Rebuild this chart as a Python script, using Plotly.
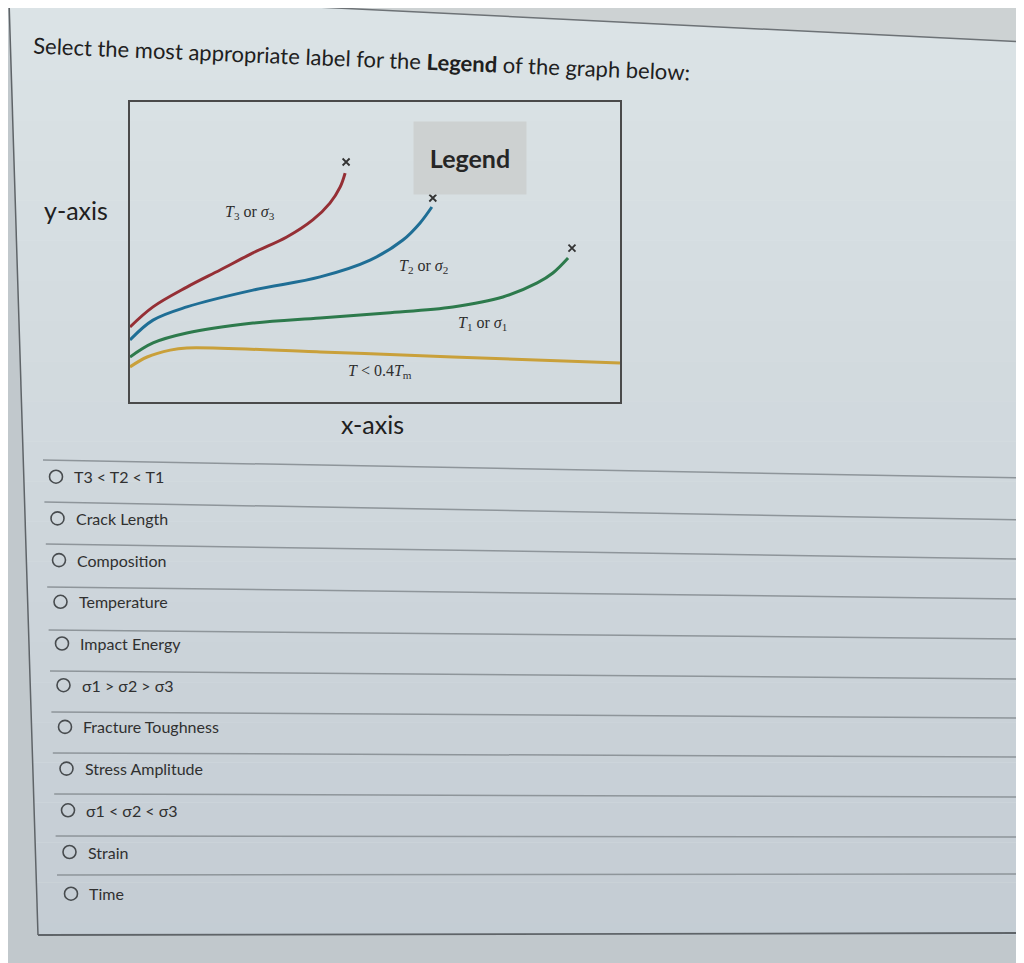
import plotly.graph_objects as go

W, H = 1024, 963
OFF = 8  # the page body margin shifts the figure by this many pixels
FW, FH = W - OFF, H - OFF  # figure size that fills the rest of the window

# creep curves (arbitrary units, 0-100 inside the frame)
t3_x = [0, 4.7, 11.6, 18.4, 25.1, 32.0, 37.3, 40.8, 42.9, 43.9]
t3_y = [25, 31.7, 38.3, 44, 49.7, 55, 60.7, 66.3, 71.7, 76.3]
t2_x = [0, 4.7, 11.6, 25.1, 38.8, 49, 55.7, 59.2, 61.6]
t2_y = [20.7, 27.3, 31.7, 37.3, 41.7, 47.3, 54, 59.7, 65]
t1_x = [0, 4.7, 11.6, 25.1, 38.8, 52.4, 65.9, 76.1, 83.1, 86.3, 89.4]
t1_y = [15, 19.7, 23, 26.3, 28, 29.7, 31.7, 35, 39.7, 43, 48]
low_x = [0, 3.5, 8.2, 11.6, 38.8, 65.9, 100]
low_y = [11.7, 15, 17.3, 18, 16.7, 15, 13]
rupture_x = [44.1, 61.8, 90.2]
rupture_y = [80, 68, 51.3]

curve_labels = ["<i>T</i><sub>3</sub> or <i>σ</i><sub>3</sub>",
                "<i>T</i><sub>2</sub> or <i>σ</i><sub>2</sub>",
                "<i>T</i><sub>1</sub> or <i>σ</i><sub>1</sub>",
                "<i>T</i> &lt; 0.4<i>T</i><sub>m</sub>"]
label_x = [24.5, 59.8, 72, 51]
label_y = [63, 45.3, 26.3, 10.3]

question = "Select the most appropriate label for the <b>Legend</b> of the graph below:"
options = ["T3 < T2 < T1", "Crack Length", "Composition", "Temperature",
           "Impact Energy", "σ1 > σ2 > σ3", "Fracture Toughness",
           "Stress Amplitude", "σ1 < σ2 < σ3", "Strain", "Time"]

# page geometry (screen pixels) for the quiz layout
opt_y = [476.7 + 41.7 * i for i in range(len(options))]
opt_cx = [56 + 1.5 * i for i in range(len(options))]
sep_left_y = [460, 502, 544, 587, 630, 671, 712, 753, 794, 836, 875]
sep_right_y = [478, 520, 559, 599, 639, 679, 718, 757, 797, 837, 874]

box_l, box_r, box_t, box_b = 130, 620, 102, 402

fig = go.Figure()

# --- page layer (x/y = screen pixels) ---
fig.add_trace(go.Scatter(
    x=opt_cx, y=opt_y, mode="markers", hoverinfo="skip", showlegend=False,
    marker=dict(symbol="circle-open", size=13, color="#474b4e", line=dict(width=1.6, color="#474b4e")),
    xaxis="x", yaxis="y"
))

# --- the creep chart ---
for xs, ys, col in [(low_x, low_y, "#c9a03a"), (t1_x, t1_y, "#2d7a4c"),
                    (t2_x, t2_y, "#1f6e95"), (t3_x, t3_y, "#952f35")]:
    fig.add_trace(go.Scatter(
        x=xs, y=ys, mode="lines", line=dict(color=col, width=3, shape="spline", smoothing=1.0),
        showlegend=False, hoverinfo="skip", xaxis="x2", yaxis="y2"
    ))

fig.add_trace(go.Scatter(
    x=rupture_x, y=rupture_y, mode="markers", showlegend=False, hoverinfo="skip",
    marker=dict(symbol="x-thin", size=7, line=dict(width=1.8, color="#333")),
    xaxis="x2", yaxis="y2"
))

shapes = []
# soft vertical shading of the photographed screen
n_bands = 24
for i in range(n_bands):
    f = i / (n_bands - 1)
    r = int(219 - 23 * f)
    g = int(227 - 22 * f)
    b = int(230 - 18 * f)
    shapes.append(dict(type="rect", xref="x", yref="y", layer="below",
                       x0=0, x1=W, y0=H * i / n_bands, y1=H * (i + 1) / n_bands,
                       line=dict(width=0), fillcolor=f"rgb({r},{g},{b})"))
# darker area outside the page
shapes.append(dict(type="path", xref="x", yref="y", layer="below",
                   path=f"M 0,0 L 9,0 L 38,935 L {W},935 L {W},{H} L 0,{H} Z",
                   fillcolor="#c1c8cc", line=dict(width=0)))
shapes.append(dict(type="path", xref="x", yref="y", layer="below",
                   path=f"M 175,0 L {W},0 L {W},42 Z",
                   fillcolor="#cdd2d3", line=dict(width=0)))
# page borders
shapes.append(dict(type="line", xref="x", yref="y", x0=175, y0=0, x1=W, y1=42,
                   line=dict(color="#6d7276", width=1.5)))
shapes.append(dict(type="line", xref="x", yref="y", x0=9, y0=0, x1=38, y1=935,
                   line=dict(color="#5f6468", width=1.5)))
shapes.append(dict(type="line", xref="x", yref="y", x0=38, y0=935, x1=W, y1=933,
                   line=dict(color="#5f6468", width=1.8)))
# option separators
for i, (yl, yr) in enumerate(zip(sep_left_y, sep_right_y)):
    shapes.append(dict(type="line", xref="x", yref="y", x0=43 + 1.4 * i, y0=yl, x1=W, y1=yr,
                       line=dict(color="#8e959a", width=1.5)))

annotations = []
annotations.append(dict(xref="x", yref="y", x=361, y=58.5, text=question, showarrow=False,
                        textangle=2.35, font=dict(family="Lato", size=22, color="#202020")))
annotations.append(dict(xref="x", yref="y", x=76, y=210, text="y-axis", showarrow=False,
                        font=dict(family="Lato", size=25, color="#202020")))
annotations.append(dict(xref="x", yref="y", x=372, y=424, text="x-axis", showarrow=False,
                        font=dict(family="Lato", size=25, color="#202020")))
for i, txt in enumerate(options):
    annotations.append(dict(xref="x", yref="y", x=opt_cx[i] + 16, y=opt_y[i], text=txt,
                            showarrow=False, xanchor="left",
                            font=dict(family="Lato", size=16, color="#303030")))

annotations.append(dict(xref="x2", yref="y2", x=69.4, y=81.3, text="<b>Legend</b>",
                        showarrow=False, bgcolor="#cdd1d1", width=110, height=70,
                        font=dict(family="Lato", size=25, color="#262626")))
for txt, lx, ly in zip(curve_labels, label_x, label_y):
    annotations.append(dict(xref="x2", yref="y2", x=lx, y=ly, text=txt, showarrow=False,
                            font=dict(family="Liberation Serif", size=16, color="#2e2e2e")))

fig.update_layout(
    width=FW, height=FH,
    margin=dict(l=0, r=0, t=0, b=0),
    paper_bgcolor="#dbe2e5",
    plot_bgcolor="rgba(0,0,0,0)",
    showlegend=False,
    shapes=shapes,
    annotations=annotations,
    xaxis=dict(domain=[0, 1], range=[OFF, W], visible=False, fixedrange=True),
    yaxis=dict(domain=[0, 1], range=[H, OFF], visible=False, fixedrange=True),
    xaxis2=dict(domain=[(box_l - OFF) / FW, (box_r - OFF) / FW], range=[0, 100], anchor="y2",
                showline=True, mirror=True, linecolor="#4a4a4a", linewidth=2,
                showgrid=False, zeroline=False, showticklabels=False, ticks=""),
    yaxis2=dict(domain=[1 - (box_b - OFF) / FH, 1 - (box_t - OFF) / FH], range=[0, 100], anchor="x2",
                showline=True, mirror=True, linecolor="#4a4a4a", linewidth=2,
                showgrid=False, zeroline=False, showticklabels=False, ticks=""),
)

fig.write_html("out.html")
